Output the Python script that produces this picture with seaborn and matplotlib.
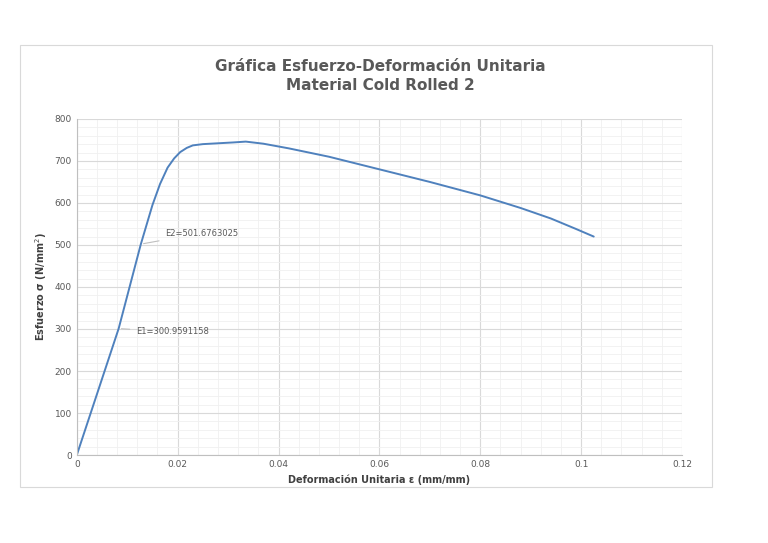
import matplotlib
matplotlib.use("Agg")
import matplotlib.pyplot as plt
import seaborn as sns
from matplotlib.ticker import MultipleLocator

strain = [0, 0.004, 0.0083, 0.0127, 0.015, 0.0165, 0.018, 0.0193, 0.0205, 0.0218, 0.023,
          0.025, 0.028, 0.031, 0.0335, 0.037, 0.042, 0.05, 0.06, 0.07, 0.08, 0.088,
          0.094, 0.099, 0.1025]
stress = [0, 145, 301, 502, 595, 645, 684, 706, 721, 731, 737,
          740, 742, 744, 746, 741, 730, 710, 680, 650, 618, 588,
          563, 538, 520]
point_labels = ["E1=300.9591158", "E2=501.6763025"]
point_idx = [2, 3]
label_pos = [(0.0117, 293), (0.0175, 528)]

sns.set_style("white")
fig = plt.figure(figsize=(7.68, 5.43), dpi=100)
fig.patches.append(plt.Rectangle((0.026, 0.103), 0.901, 0.815, transform=fig.transFigure,
                                 fill=False, edgecolor="#d9d9d9", lw=0.8))
ax = fig.add_axes([0.1, 0.162, 0.788, 0.619])
sns.lineplot(x=strain, y=stress, ax=ax, color="#4f81bd", lw=1.4)

ax.set_xlim(0, 0.12)
ax.set_ylim(0, 800)
ax.xaxis.set_minor_locator(MultipleLocator(0.004))
ax.yaxis.set_major_locator(MultipleLocator(100))
ax.yaxis.set_minor_locator(MultipleLocator(20))
ax.set_xticks([0, 0.02, 0.04, 0.06, 0.08, 0.1, 0.12])
ax.set_xticklabels(["0", "0.02", "0.04", "0.06", "0.08", "0.1", "0.12"])
ax.grid(which="major", color="#d9d9d9", lw=0.8)
ax.grid(which="minor", color="#f0f0f0", lw=0.6)
for s in ["top", "right"]:
    ax.spines[s].set_visible(False)
for s in ["left", "bottom"]:
    ax.spines[s].set_color("#bfbfbf")
ax.tick_params(labelsize=6.5, colors="#595959", length=0)

for lbl, i, pos in zip(point_labels, point_idx, label_pos):
    ax.annotate(lbl, xy=(strain[i], stress[i]), xytext=pos,
                fontsize=6, color="#595959", va="center",
                arrowprops=dict(arrowstyle="-", color="#bfbfbf", lw=0.8))

ax.set_xlabel("Deformación Unitaria ε (mm/mm)", fontsize=7, color="#404040", fontweight="bold")
ax.set_ylabel("Esfuerzo σ (N/mm$^2$)", fontsize=7, color="#404040", fontweight="bold")
fig.text(0.495, 0.86, "Gráfica Esfuerzo-Deformación Unitaria\nMaterial Cold Rolled 2",
         ha="center", va="center", fontsize=11, color="#595959", fontweight="bold",
         linespacing=1.3)
fig.savefig("out.png", dpi=100)
